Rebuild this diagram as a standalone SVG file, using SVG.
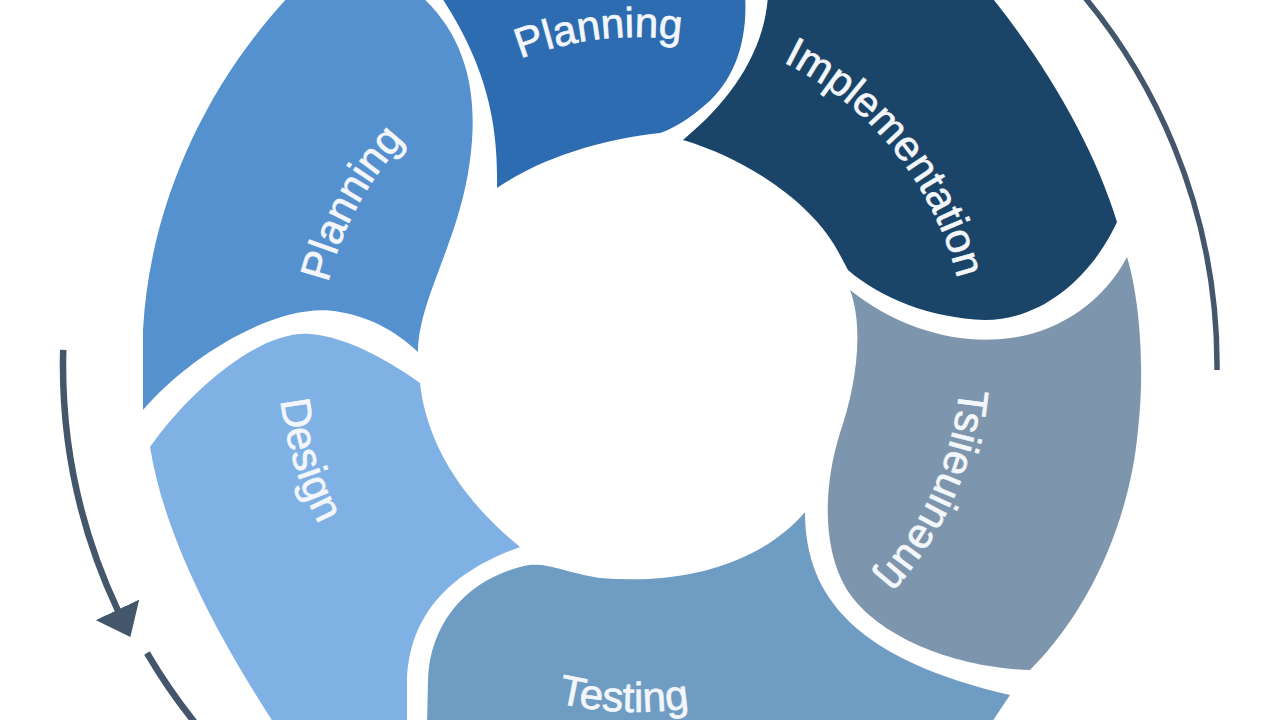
<svg xmlns="http://www.w3.org/2000/svg" xmlns:xlink="http://www.w3.org/1999/xlink" width="1280" height="720" viewBox="0 0 1280 720">
<style>
.lbl{font-family:"Liberation Sans","Open Sans",Arial,sans-serif;font-size:42px;fill:#f3f6fa;stroke:#f3f6fa;stroke-width:0.7px;}
.arc{fill:none;stroke:#44566b;stroke-linecap:butt;}
</style>
<defs>
<marker id="ah" markerUnits="userSpaceOnUse" viewBox="0 0 30 48" refX="2" refY="24" markerWidth="30" markerHeight="48" orient="auto">
<path d="M0,0 L30,24 L0,48 Z" fill="#44566b"/>
</marker>
<path id="pTop" d="M324.6,284.2 A321,321 0 0 1 923.8,213.8"/>
<path id="pImpl" d="M530.6,45.6 A330,330 0 0 1 919.3,528.9"/>
<path id="pGray" d="M862.1,124.9 A324,324 0 0 1 614.4,681.2"/>
<path id="pLeft" d="M399.2,569.1 A318,318 0 0 1 683.5,43.4"/>
<path id="pTest" d="M300,466.2 A354,354 0 0 0 964.8,491.7"/>
<path id="pDesign" d="M419.9,72.1 A359,359 0 0 0 619.5,716.6"/>
</defs>
<rect width="1280" height="720" fill="#ffffff"/>

<g id="connectors">
<path class="arc" stroke-width="5.5" d="M1048,-43 A577,577 0 0 1 1217,370"/>
<path class="arc" stroke-width="6.5" d="M63.2,349.9 A577,577 0 0 0 118.4,611.6" marker-end="url(#ah)"/>
<path class="arc" stroke-width="6.5" d="M147,653 A571,571 0 0 0 215.7,747.1"/>
</g>

<g id="node-planning-top">
<path fill="#2d6cb0" d="M440,-5 L745,-5 C748,40 735,80 705,105 C690,118 675,128 660,133 C610,138 545,155 497,188 C498,130 490,70 440,-5 Z"/>
<text class="lbl"><textPath href="#pTop" startOffset="50%" text-anchor="middle">Planning</textPath></text>
</g>

<g id="node-implementation">
<path fill="#1a4569" d="M768,-5 C765,50 732,100 683,140 C750,160 815,205 840,255 L848,270 C880,298 930,318 985,320 C1040,320 1090,280 1117,222 C1095,150 1050,70 990,-5 Z"/>
<text class="lbl"><textPath href="#pImpl" startOffset="50%" text-anchor="middle">Implementation</textPath></text>
</g>

<g id="node-gray">
<path fill="#7e96ad" d="M850,290 C900,330 960,345 1010,338 C1060,332 1105,300 1127,257 C1140,300 1145,370 1138,430 C1130,520 1090,610 1030,670 C960,668 880,640 847,590 C820,545 825,480 840,433 C855,390 865,330 850,290 Z"/>
<text class="lbl" font-size="44"><textPath href="#pGray" startOffset="50%" text-anchor="middle">Tsiieuinəuŋ</textPath></text>
</g>

<g id="node-testing">
<path fill="#6e9cc3" d="M427,725 L428,680 C430,620 470,580 520,567 C545,560 560,572 600,578 C680,585 760,565 805,512 C805,600 860,660 1010,695 L990,725 Z"/>
<text class="lbl"><textPath href="#pTest" startOffset="50%" text-anchor="middle">Testing</textPath></text>
</g>

<g id="node-design">
<path fill="#80b1e5" d="M150,447 C190,390 260,330 310,334 C350,337 395,365 420,383 C425,430 450,490 520,547 C470,565 410,600 407,680 L407,725 L275,725 C220,640 165,540 150,447 Z"/>
<text class="lbl"><textPath href="#pDesign" startOffset="50%" text-anchor="middle">Design</textPath></text>
</g>

<g id="node-planning-left">
<path fill="#5590cf" d="M290,-5 C210,80 150,200 143,330 L143,410 C190,355 280,300 340,312 C375,318 400,335 418,352 C418,300 460,240 470,160 C478,100 470,40 420,-5 Z"/>
<text class="lbl"><textPath href="#pLeft" startOffset="50%" text-anchor="middle">Planning</textPath></text>
</g>
</svg>
